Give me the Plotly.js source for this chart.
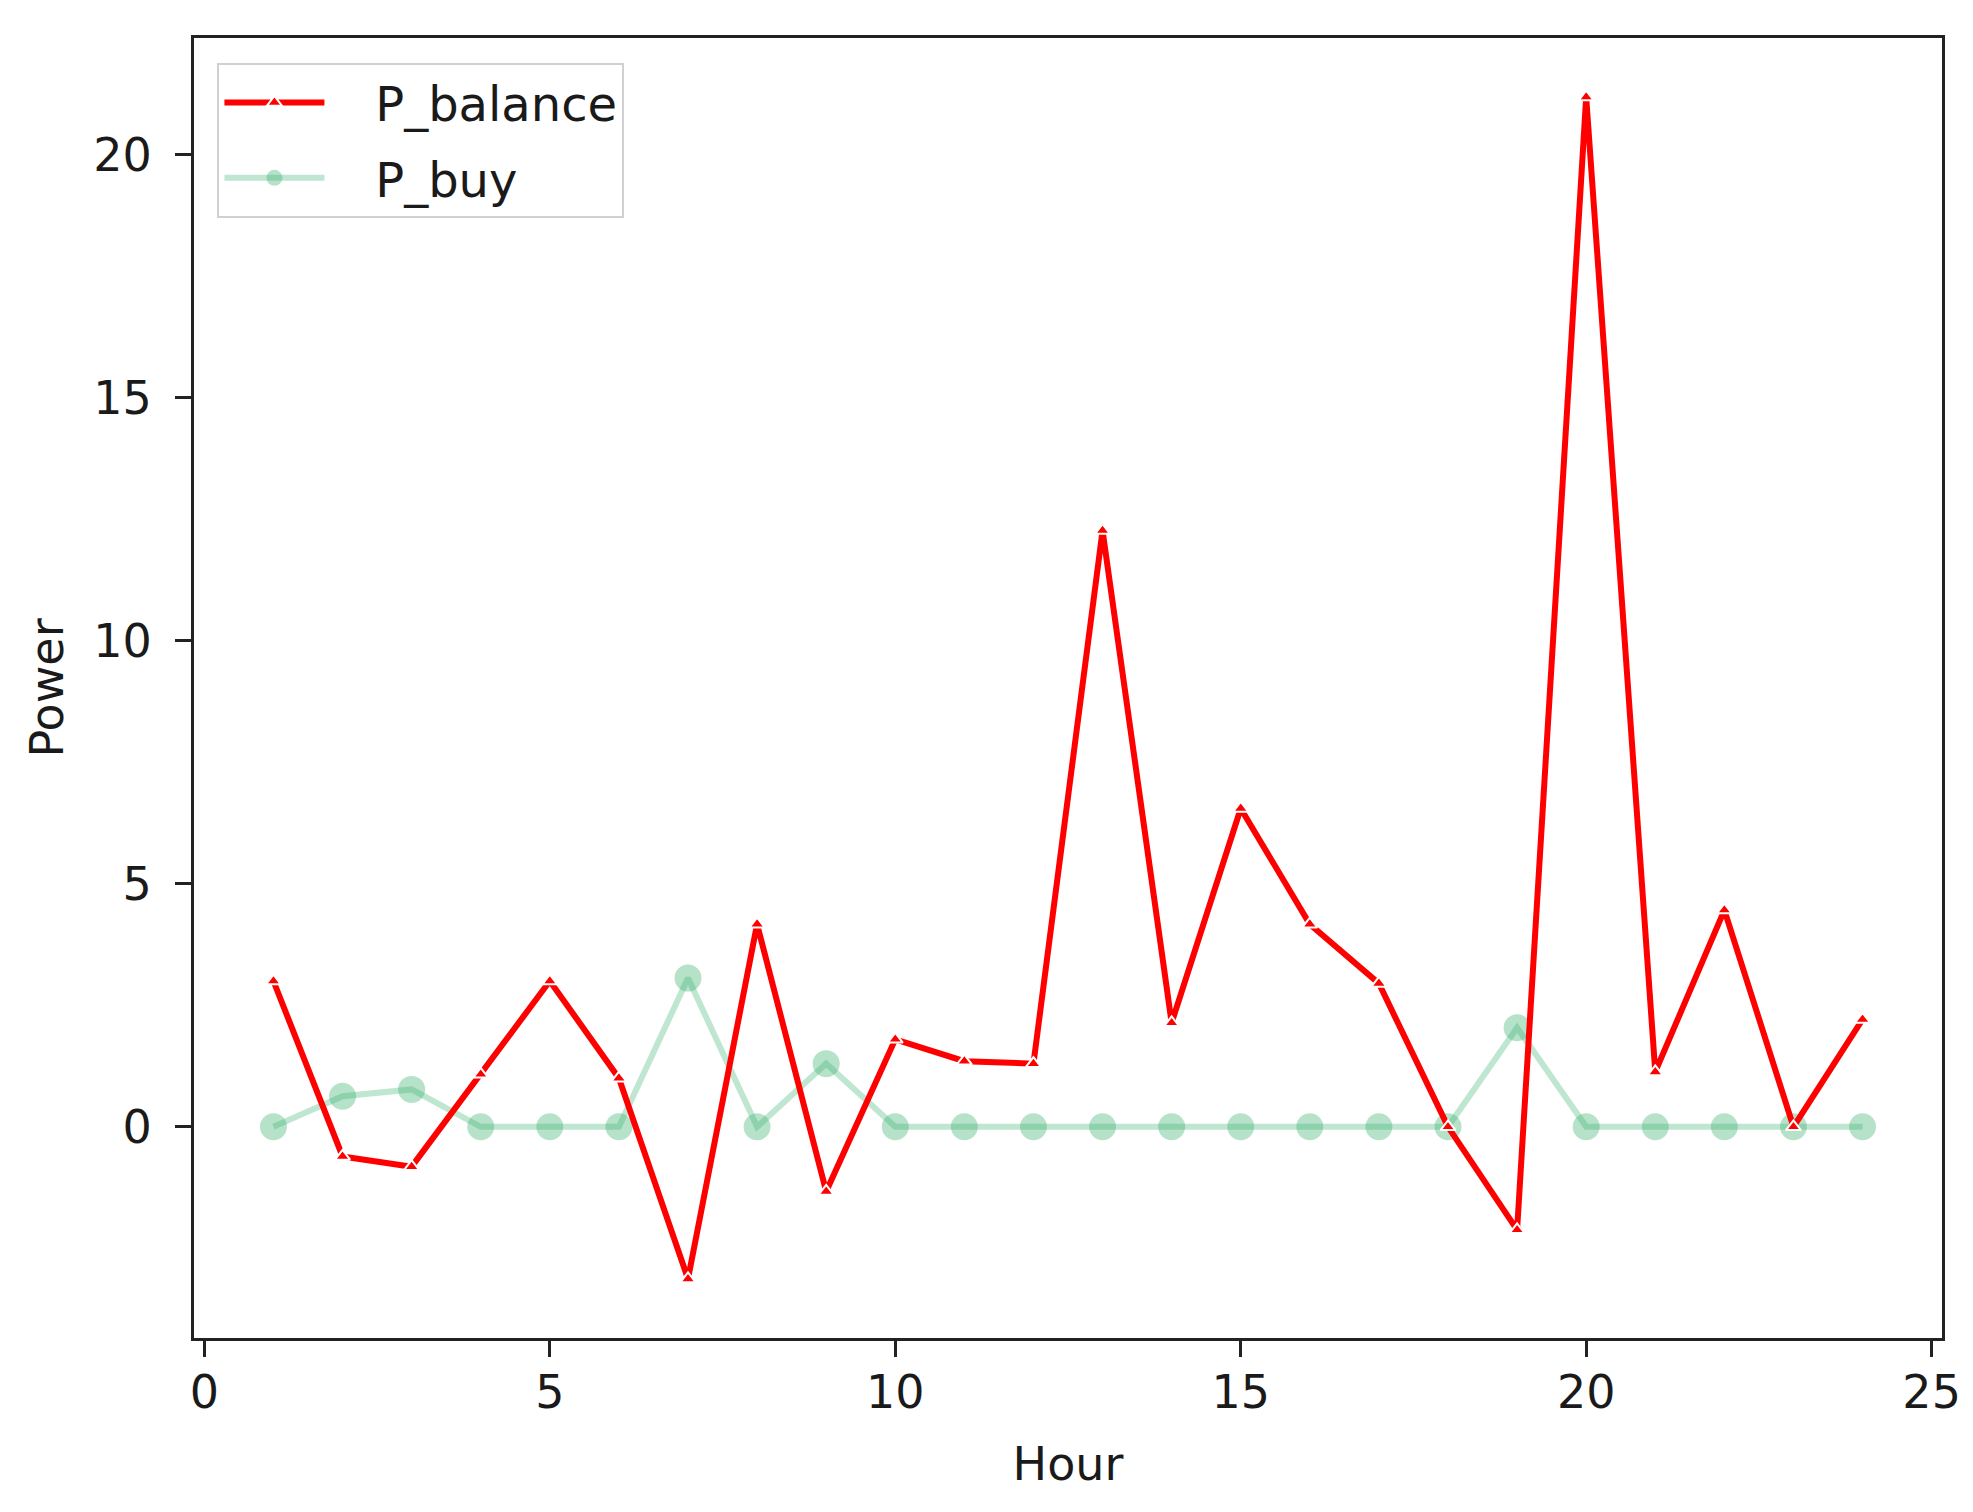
<!DOCTYPE html>
<html>
<head>
<meta charset="utf-8">
<script src="https://cdn.plot.ly/plotly-3.0.1.min.js"></script>
<style>
  html, body { margin: 0; padding: 0; background: #ffffff; }
  #chart { width: 1973px; height: 1512px; }
</style>
</head>
<body>
<div id="chart"></div>
<script>
// ---- data ----
const hours = [1, 2, 3, 4, 5, 6, 7, 8, 9, 10, 11, 12, 13, 14, 15, 16, 17, 18, 19, 20, 21, 22, 23, 24];
const pBalance = [3.0, -0.61, -0.82, 1.08, 3.0, 1.0, -3.13, 4.17, -1.33, 1.80, 1.35, 1.30,
                  12.27, 2.14, 6.55, 4.17, 2.95, 0.0, -2.12, 21.19, 1.13, 4.46, 0.0, 2.21];
const pBuy = [0, 0.63, 0.77, 0, 0, 0, 3.06, 0, 1.30, 0, 0, 0,
              0, 0, 0, 0, 0, 0, 2.04, 0, 0, 0, 0, 0];
const seriesNames = ["P_balance", "P_buy"];
const xTickVals = [0, 5, 10, 15, 20, 25];
const yTickVals = [0, 5, 10, 15, 20];

// matplotlib-like 5% auto margins
function padRange(arrs) {
  const all = [].concat(...arrs);
  const lo = Math.min(...all), hi = Math.max(...all);
  const m = (hi - lo) * 0.05;
  return [lo - m, hi + m];
}
const xRange = padRange([hours]);
const yRange = padRange([pBalance, pBuy]);

const FONT = "DejaVu Sans, Liberation Sans, sans-serif";
const TXT = "#1a1a1a";
const NB = "\u00A0\u00A0\u00A0";

const traces = [
  {
    x: hours, y: pBalance, name: NB + seriesNames[0], type: "scatter", mode: "lines+markers",
    legendgroup: "a", legendrank: 1,
    line: { color: "#ff0000", width: 6 },
    marker: { symbol: "triangle-up", size: 13, color: "#ff0000", line: { color: "#ffffff", width: 2 } }
  },
  {
    x: hours, y: pBuy, name: NB + seriesNames[1], type: "scatter", mode: "lines+markers",
    legendgroup: "b", legendrank: 2,
    line: { color: "rgba(60,179,113,0.33)", width: 6 },
    marker: { symbol: "circle", size: 27, color: "rgba(60,179,113,0.38)", line: { width: 0 } }
  }
];
// draw P_buy underneath P_balance
const data = [traces[1], traces[0]];

const axisCommon = {
  showgrid: false, zeroline: false,
  showline: true, mirror: true, linecolor: "#222222", linewidth: 3,
  ticks: "outside", ticklen: 16, tickwidth: 3, tickcolor: "#222222",
  tickfont: { family: FONT, size: 46, color: TXT },
};

const layout = {
  width: 1973, height: 1512,
  paper_bgcolor: "#ffffff", plot_bgcolor: "#ffffff",
  margin: { l: 194, r: 31, t: 38, b: 174, pad: 0 },
  font: { family: FONT, size: 46, color: TXT },
  showlegend: true,
  legend: {
    x: 0.0134, y: 0.981, xanchor: "left", yanchor: "top",
    bgcolor: "rgba(255,255,255,0.8)", bordercolor: "#d0d0d0", borderwidth: 2,
    font: { family: FONT, size: 48, color: TXT },
    traceorder: "grouped",
    tracegroupgap: 10,
    itemwidth: 100
  },
  xaxis: Object.assign({}, axisCommon, {
    range: xRange, tickmode: "array", tickvals: xTickVals, ticktext: xTickVals.map(String),
    ticklabelstandoff: -4,
    title: { text: "Hour", font: { family: FONT, size: 46, color: TXT }, standoff: 30 }
  }),
  yaxis: Object.assign({}, axisCommon, {
    range: yRange, tickmode: "array", tickvals: yTickVals, ticktext: yTickVals.map(String),
    ticklabelstandoff: 14,
    title: { text: "Power", font: { family: FONT, size: 46, color: TXT }, standoff: 16 }
  })
};

Plotly.newPlot("chart", data, layout, { staticPlot: true, displayModeBar: false });
</script>
</body>
</html>
